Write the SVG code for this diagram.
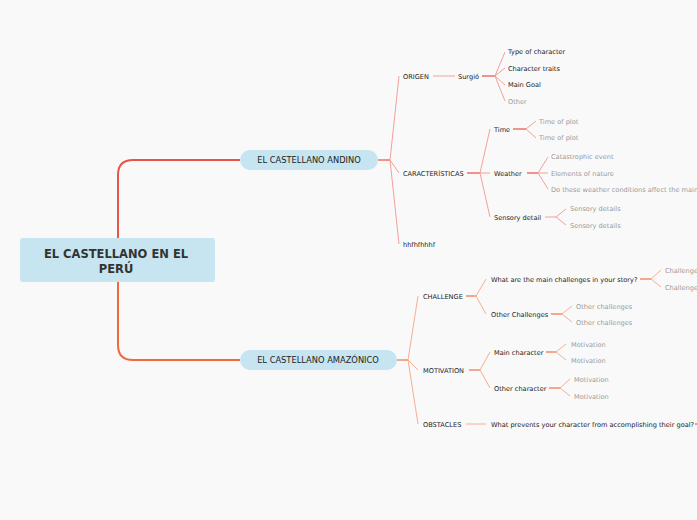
<svg xmlns="http://www.w3.org/2000/svg" width="697" height="520" viewBox="0 0 697 520">
<style>
text{font-family:"DejaVu Sans",Verdana,sans-serif;font-size:6.6px;fill:#222}
.g{fill:#999}
.a{stroke:#f4a09a;fill:none;stroke-width:1}
.ar{stroke:#ec5a50;fill:none;stroke-width:1.3}
.b{stroke:#f7ae90;fill:none;stroke-width:1}
.br{stroke:#f07a50;fill:none;stroke-width:1.3}
.pill{fill:#c6e5f1}
.lab{font-size:8.3px;text-anchor:middle}
</style>
<rect width="697" height="520" fill="#f9f9f9"/>
<g id="connectors">
<path d="M118,240 L118,175 Q118,160 133,160 L240,160" stroke="#e8534a" stroke-width="2" fill="none"/>
<path d="M118,282 L118,345 Q118,360 133,360 L240,360" stroke="#ee6a3c" stroke-width="2" fill="none"/>
<path class="ar" d="M378,160 L390,160"/>
<path class="a" d="M390,160 L399,76 M390,160 L399,173 M390,160 L399,244"/>
<path class="a" d="M433,76 L455,76"/>
<path class="ar" d="M482,76 L495,76"/>
<path class="a" d="M495,76 L505,52 M495,76 L505,68 M495,76 L505,85 M495,76 L505,101"/>
<path class="ar" d="M467,173 L480,173"/>
<path class="a" d="M480,173 L490,129 M480,173 L490,173 M480,173 L490,217"/>
<path class="ar" d="M513,129 L526,129"/>
<path class="a" d="M526,129 L536,121 M526,129 L536,138"/>
<path class="ar" d="M527,173 L538,173"/>
<path class="a" d="M538,173 L548,157 M538,173 L548,173 M538,173 L548,189"/>
<path class="a" d="M545,217 L556,217"/>
<path class="a" d="M556,217 L566,209 M556,217 L566,225"/>
<path class="br" d="M397,360 L408,360"/>
<path class="b" d="M408,360 L418,296 M408,360 L418,370 M408,360 L418,424"/>
<path class="br" d="M466,296 L476,296"/>
<path class="b" d="M476,296 L486,279 M476,296 L486,314"/>
<path class="br" d="M640,279 L651,279"/>
<path class="b" d="M651,279 L661,270 M651,279 L661,287"/>
<path class="br" d="M551,314 L562,314"/>
<path class="b" d="M562,314 L572,306 M562,314 L572,322"/>
<path class="br" d="M469,370 L480,370"/>
<path class="b" d="M480,370 L490,352 M480,370 L490,388"/>
<path class="br" d="M546,352 L556,352"/>
<path class="b" d="M556,352 L566,344 M556,352 L566,360"/>
<path class="br" d="M549,388 L560,388"/>
<path class="b" d="M560,388 L570,379 M560,388 L570,396"/>
<path class="b" d="M466,424 L486,424"/>
<path class="br" d="M695,424 L697,424"/>
</g>
<g id="central"><rect x="20" y="238" width="195" height="44" rx="3" class="pill"/>
<text x="116" y="258" style="font-size:11.5px;font-weight:bold;text-anchor:middle;fill:#333">EL CASTELLANO EN EL</text>
<text x="116" y="273" style="font-size:11.5px;font-weight:bold;text-anchor:middle;fill:#333">PERÚ</text></g>
<g id="andino"><rect x="240" y="150" width="138" height="20" rx="10" class="pill"/><text x="309" y="163" class="lab">EL CASTELLANO ANDINO</text></g>
<g id="amazonico"><rect x="240" y="350" width="157" height="20" rx="10" class="pill"/><text x="318" y="363" class="lab">EL CASTELLANO AMAZÓNICO</text></g>
<g id="origen"><text x="403" y="79">ORIGEN</text></g>
<g id="surgio"><text x="458" y="79">Surgió</text></g>
<g id="surgio-kids"><text x="508" y="54">Type of character</text><text x="508" y="71">Character traits</text><text x="508" y="87">Main Goal</text><text x="508" y="104" class="g">Other</text></g>
<g id="caract"><text x="403" y="176">CARACTERÍSTICAS</text></g>
<g id="time"><text x="494" y="132">Time</text><text x="539" y="124" class="g">Time of plot</text><text x="539" y="140" class="g">Time of plot</text></g>
<g id="weather"><text x="494" y="176">Weather</text><text x="551" y="159" class="g">Catastrophic event</text><text x="551" y="176" class="g">Elements of nature</text><text x="551" y="192" class="g">Do these weather conditions affect the main</text></g>
<g id="sensory"><text x="494" y="220">Sensory detail</text><text x="570" y="211" class="g">Sensory details</text><text x="570" y="228" class="g">Sensory details</text></g>
<g id="hhf"><text x="403" y="247">hhfhfhhhf</text></g>
<g id="challenge"><text x="423" y="299">CHALLENGE</text>
<text x="491" y="282">What are the main challenges in your story?</text><text x="665" y="273" class="g">Challenge</text><text x="665" y="290" class="g">Challenge</text>
<text x="491" y="317">Other Challenges</text><text x="576" y="309" class="g">Other challenges</text><text x="576" y="325" class="g">Other challenges</text></g>
<g id="motivation"><text x="423" y="373">MOTIVATION</text>
<text x="494" y="355">Main character</text><text x="571" y="347" class="g">Motivation</text><text x="571" y="363" class="g">Motivation</text>
<text x="494" y="391">Other character</text><text x="574" y="382" class="g">Motivation</text><text x="574" y="399" class="g">Motivation</text></g>
<g id="obstacles"><text x="423" y="427">OBSTACLES</text><text x="491" y="427">What prevents your character from accomplishing their goal?</text></g>
</svg>
